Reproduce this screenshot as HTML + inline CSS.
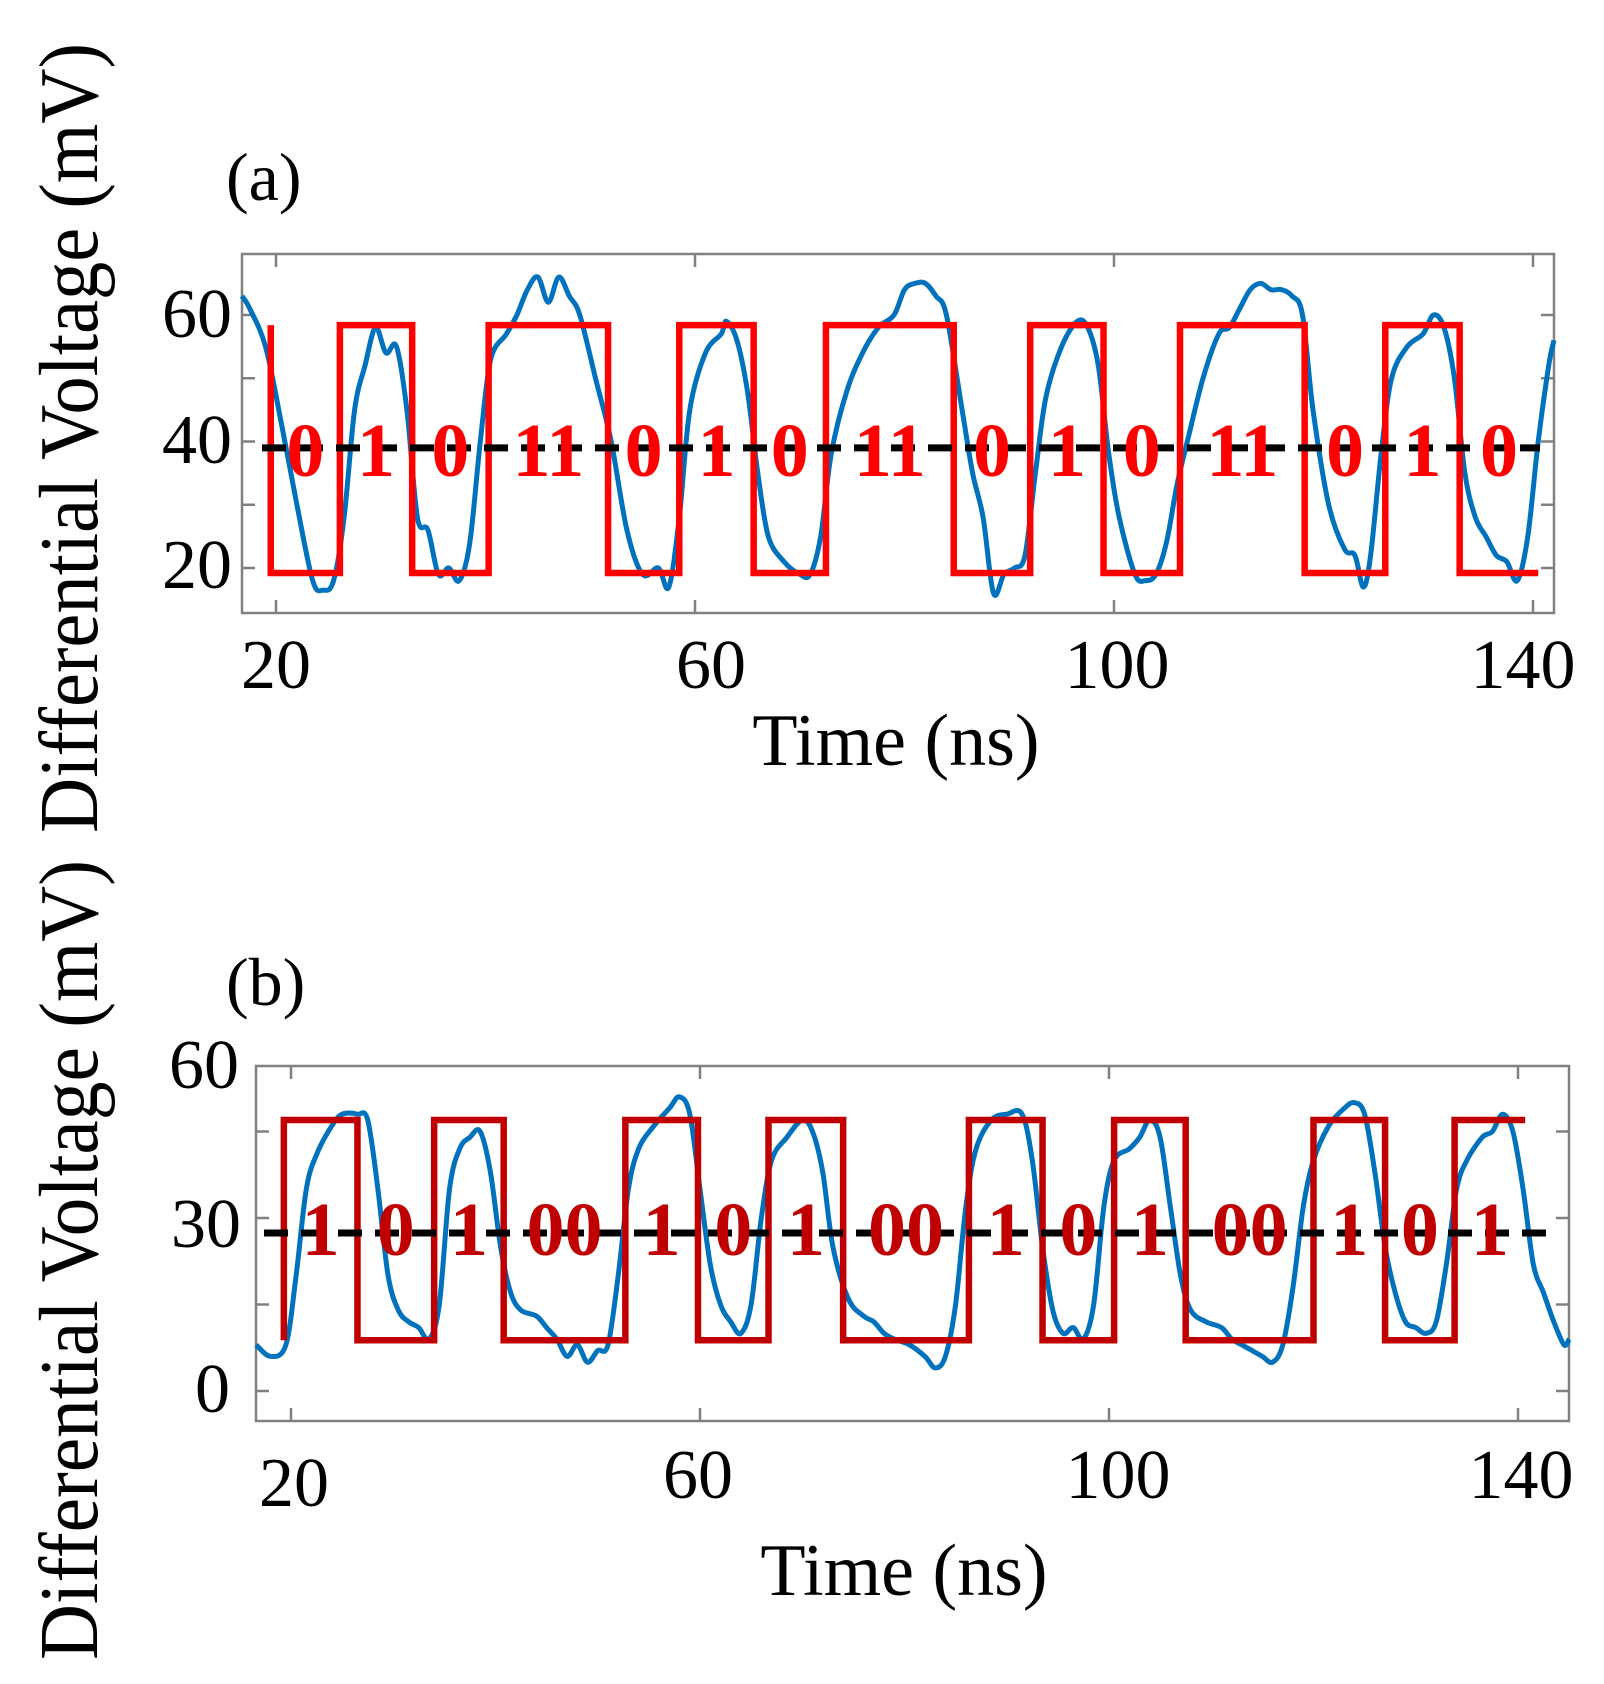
<!DOCTYPE html>
<html><head><meta charset="utf-8"><style>
html,body{margin:0;padding:0;background:#fff;}
svg{display:block;}
text{font-family:"Liberation Serif",serif;}
</style></head><body>
<svg id="s" width="1604" height="1684" viewBox="0 0 1604 1684" xmlns="http://www.w3.org/2000/svg">
<rect width="1604" height="1684" fill="#fff"/>
<text transform="translate(97,438) rotate(-90)" font-size="84" text-anchor="middle" textLength="790" lengthAdjust="spacingAndGlyphs">Differential Voltage (mV)</text>
<text transform="translate(97,1260) rotate(-90)" font-size="84" text-anchor="middle" textLength="800" lengthAdjust="spacingAndGlyphs">Differential Voltage (mV)</text>
<text x="226" y="200" font-size="68">(a)</text>
<text x="226" y="1005" font-size="68">(b)</text>
<g id="g"></g>
</svg>
<script>
const NS="http://www.w3.org/2000/svg",G=document.getElementById('g');
function el(t,a,txt){const e=document.createElementNS(NS,t);for(const k in a)e.setAttribute(k,a[k]);if(txt!==undefined)e.textContent=txt;G.appendChild(e);return e;}
function cr(pts){let d='M'+pts[0][0].toFixed(1)+','+pts[0][1].toFixed(1);for(let i=0;i<pts.length-1;i++){const p0=pts[Math.max(0,i-1)],p1=pts[i],p2=pts[i+1],p3=pts[Math.min(pts.length-1,i+2)];const c1=[p1[0]+(p2[0]-p0[0])/6,p1[1]+(p2[1]-p0[1])/6],c2=[p2[0]-(p3[0]-p1[0])/6,p2[1]-(p3[1]-p1[1])/6];d+='C'+c1.map(v=>v.toFixed(1))+' '+c2.map(v=>v.toFixed(1))+' '+p2[0].toFixed(1)+','+p2[1].toFixed(1);}return d;}
function panel(P){
 const X=t=>P.x0+(t-P.t0)*P.sx, Y=v=>P.y0-(v-P.v0)*P.sy;
 el('rect',{x:P.L,y:P.T,width:P.R-P.L,height:P.B-P.T,fill:'none',stroke:'#808080','stroke-width':2.5});
 let tk='';
 for(const t of [20,60,100,140]){const x=X(t);tk+=`M${x},${P.T}v13M${x},${P.B}v-13`;}
 for(const v of P.yt){const y=Y(v);if(y<P.T+2||y>P.B-2)continue;tk+=`M${P.L},${y}h13M${P.R},${y}h-13`;}
 el('path',{d:tk,stroke:'#808080','stroke-width':2.5,fill:'none'});
 el('path',{d:cr(P.blue.map(p=>[X(p[0]),Y(p[1])])),stroke:'#0072bd','stroke-width':5,fill:'none','stroke-linejoin':'round'});
 let tr=P.tr,lv=P.startLevel;
 let d=`M${X(tr[0])},${Y(P.startFrom)}L${X(tr[0])},${Y(lv)}`;
 for(let i=1;i<tr.length;i++){d+=`L${X(tr[i])},${Y(lv)}`;if(i<tr.length-1){lv=lv===P.hi?P.lo:P.hi;d+=`L${X(tr[i])},${Y(lv)}`;}}
 el('path',{d:d,stroke:P.rc,'stroke-width':6.5,fill:'none','stroke-linejoin':'miter'});
 el('path',{d:`M${P.dx0},${Y(P.dv)}H${P.dx1}`,stroke:'#000','stroke-width':7,'stroke-dasharray':'24 13',fill:'none'});
 for(const b of P.bits){el('text',{x:X(b[0]),y:P.by,'font-size':76,'font-weight':'bold',fill:P.rc,'text-anchor':'middle'},b[1]);}
 for(const l of P.xl)el('text',{x:l[0],y:l[1],'font-size':70,'text-anchor':'middle'},l[2]);
 for(const l of P.yl)el('text',{x:l[0],y:l[1],'font-size':70,'text-anchor':'end'},l[2]);
 el('text',{x:P.tx,y:P.ty,'font-size':74,'text-anchor':'middle'},'Time (ns)');
}
function mids(tr,labs){const r=[];for(let i=0;i<labs.length;i++)r.push([(tr[i]+tr[i+1])/2,labs[i]]);return r;}
const trA=[19.5,26.1,33.0,40.3,51.7,58.5,65.6,72.5,84.7,92.0,99.0,106.3,118.2,125.9,133.0,140.5];
const labA=['0','1','0','11','0','1','0','11','0','1','0','11','0','1','0'];
panel({L:242,R:1554,T:254,B:613,x0:276,t0:20,sx:10.475,y0:568,v0:20,sy:6.325,yt:[20,30,40,50,60],
 hi:58.4,lo:19.2,startLevel:19.2,startFrom:58.4,tr:trA,rc:'#ff0000',dv:39,dx0:262,dx1:1540,
 bits:mids(trA,labA),by:476,
 xl:[[276,688,'20'],[711,688,'60'],[1117,688,'100'],[1523,688,'140']],
 yl:[[232,337,'60'],[232,463,'40'],[232,588,'20']],tx:896,ty:765,
 blue:[[16.75,63],[17.5,61],[19,55],[20.5,43],[22,30],[23.5,18],[24.5,16.5],[25.5,18],[26.5,28],[27.5,45],[28.5,52],[29.5,58],[30.5,54],[31.5,55],[32.5,45],[33.5,28],[34.5,26],[35.5,19],[36.5,20],[37.5,18],[38.5,24],[39.5,40],[40.5,53],[42,57],[43,60],[44,64],[45,66],[46,62],[47,66],[48,63],[49,60],[50.5,50],[52,40],[53.5,26],[55,19],[56.5,20],[57.5,17],[58.5,28],[59.5,45],[61,54],[62.5,57],[63,59],[64,56],[65,48],[66,35],[67,25],[68.5,21],[70,19],[71,19],[72,25],[73,38],[74.5,48],[76,54],[77.5,58],[79,60],[80,64],[81,65],[82,65],[83,63],[84,60],[85.5,45],[86.5,35],[87.5,28],[88.5,16],[89.5,19],[90.5,20],[91.5,22],[92.5,35],[93.5,47],[95,55],[96.5,59],[97.5,58],[98.5,52],[99.5,38],[100.5,28],[102,19],[103,18],[104,19],[105,24],[106,33],[107,40],[108.5,50],[110,57],[111,58],[112,61],[113,64],[114,65],[115,64],[116,64],[117,63],[118,60],[119,45],[120.5,30],[122,23],[123,22],[123.8,17],[124.5,22],[125.5,38],[126.5,50],[128,55],[129.5,57],[130.5,60],[131.5,58],[132.5,50],[133.5,35],[134.5,28],[135.5,25],[136.5,22],[137.5,21],[138.5,18],[139.5,25],[140.5,40],[141.5,52],[142,56]]
});
const trB=[19.3,26.5,34,40.8,52.7,59.8,66.7,74,86.3,93.5,100.5,107.5,120,127,133.8,140.7];
const labB=['1','0','1','00','1','0','1','00','1','0','1','00','1','0','1'];
panel({L:256,R:1569,T:1066,B:1421,x0:291,t0:20,sx:10.225,y0:1391,v0:0,sy:5.767,yt:[0,15,30,45,60],
 hi:47,lo:8.8,startLevel:47,startFrom:8.8,tr:trB,rc:'#c00000',dv:27.4,dx0:264,dx1:1552,
 bits:mids(trB,labB),by:1255,
 xl:[[294,1506,'20'],[698,1498,'60'],[1118,1498,'100'],[1521,1498,'140']],
 yl:[[239,1088,'60'],[241,1247,'30'],[230,1412,'0']],tx:904,ty:1595,
 blue:[[16.6,8],[18,6],[19.5,8],[20.5,20],[21.5,35],[22.5,41],[24,46],[25,48],[26.5,48],[27.5,47],[28.5,35],[29.5,20],[30.5,14],[31.5,12],[32.5,11],[33.5,9],[34.5,15],[35.5,35],[36.5,42],[37.5,44],[38.5,45],[39.5,38],[40.5,25],[41.5,17],[42.5,14],[44,13],[45,11],[46,9],[47,6],[48,8],[49,5],[50,7],[51,8],[52,20],[53,35],[54,42],[55.5,46],[57,49],[58,51],[59,48],[60,35],[61,22],[62,15],[63,12],[64,10],[65,15],[66,30],[67,40],[68.5,44],[70,47],[71,45],[72,38],[73,25],[74.5,16],[76,13],[77,12],[78,10],[79,9],[80.5,8],[82,6],[83,4],[84,6],[85,15],[86,32],[87,42],[88.5,47],[90,48],[91.5,48],[92.5,40],[93.5,25],[94.5,14],[95.5,10],[96.5,11],[97.5,9],[98.5,15],[99.5,32],[100.5,40],[102,42],[103,44],[104,47],[105,44],[106,32],[107,20],[108,14],[109.5,12],[111,11],[112,9],[113,8],[114,7],[115,6],[116,5],[117,8],[118,18],[119,32],[120,40],[121.5,46],[123,49],[124,50],[125,48],[126,38],[127,25],[128,17],[129,12],[130,11],[131,10],[132,12],[133,22],[134,35],[135,40],[136.5,44],[137.5,45],[138.5,48],[139.5,45],[140.5,35],[141.5,22],[142.5,17],[143.5,12],[144.5,8],[145,9]]
});
</script>
</body></html>
